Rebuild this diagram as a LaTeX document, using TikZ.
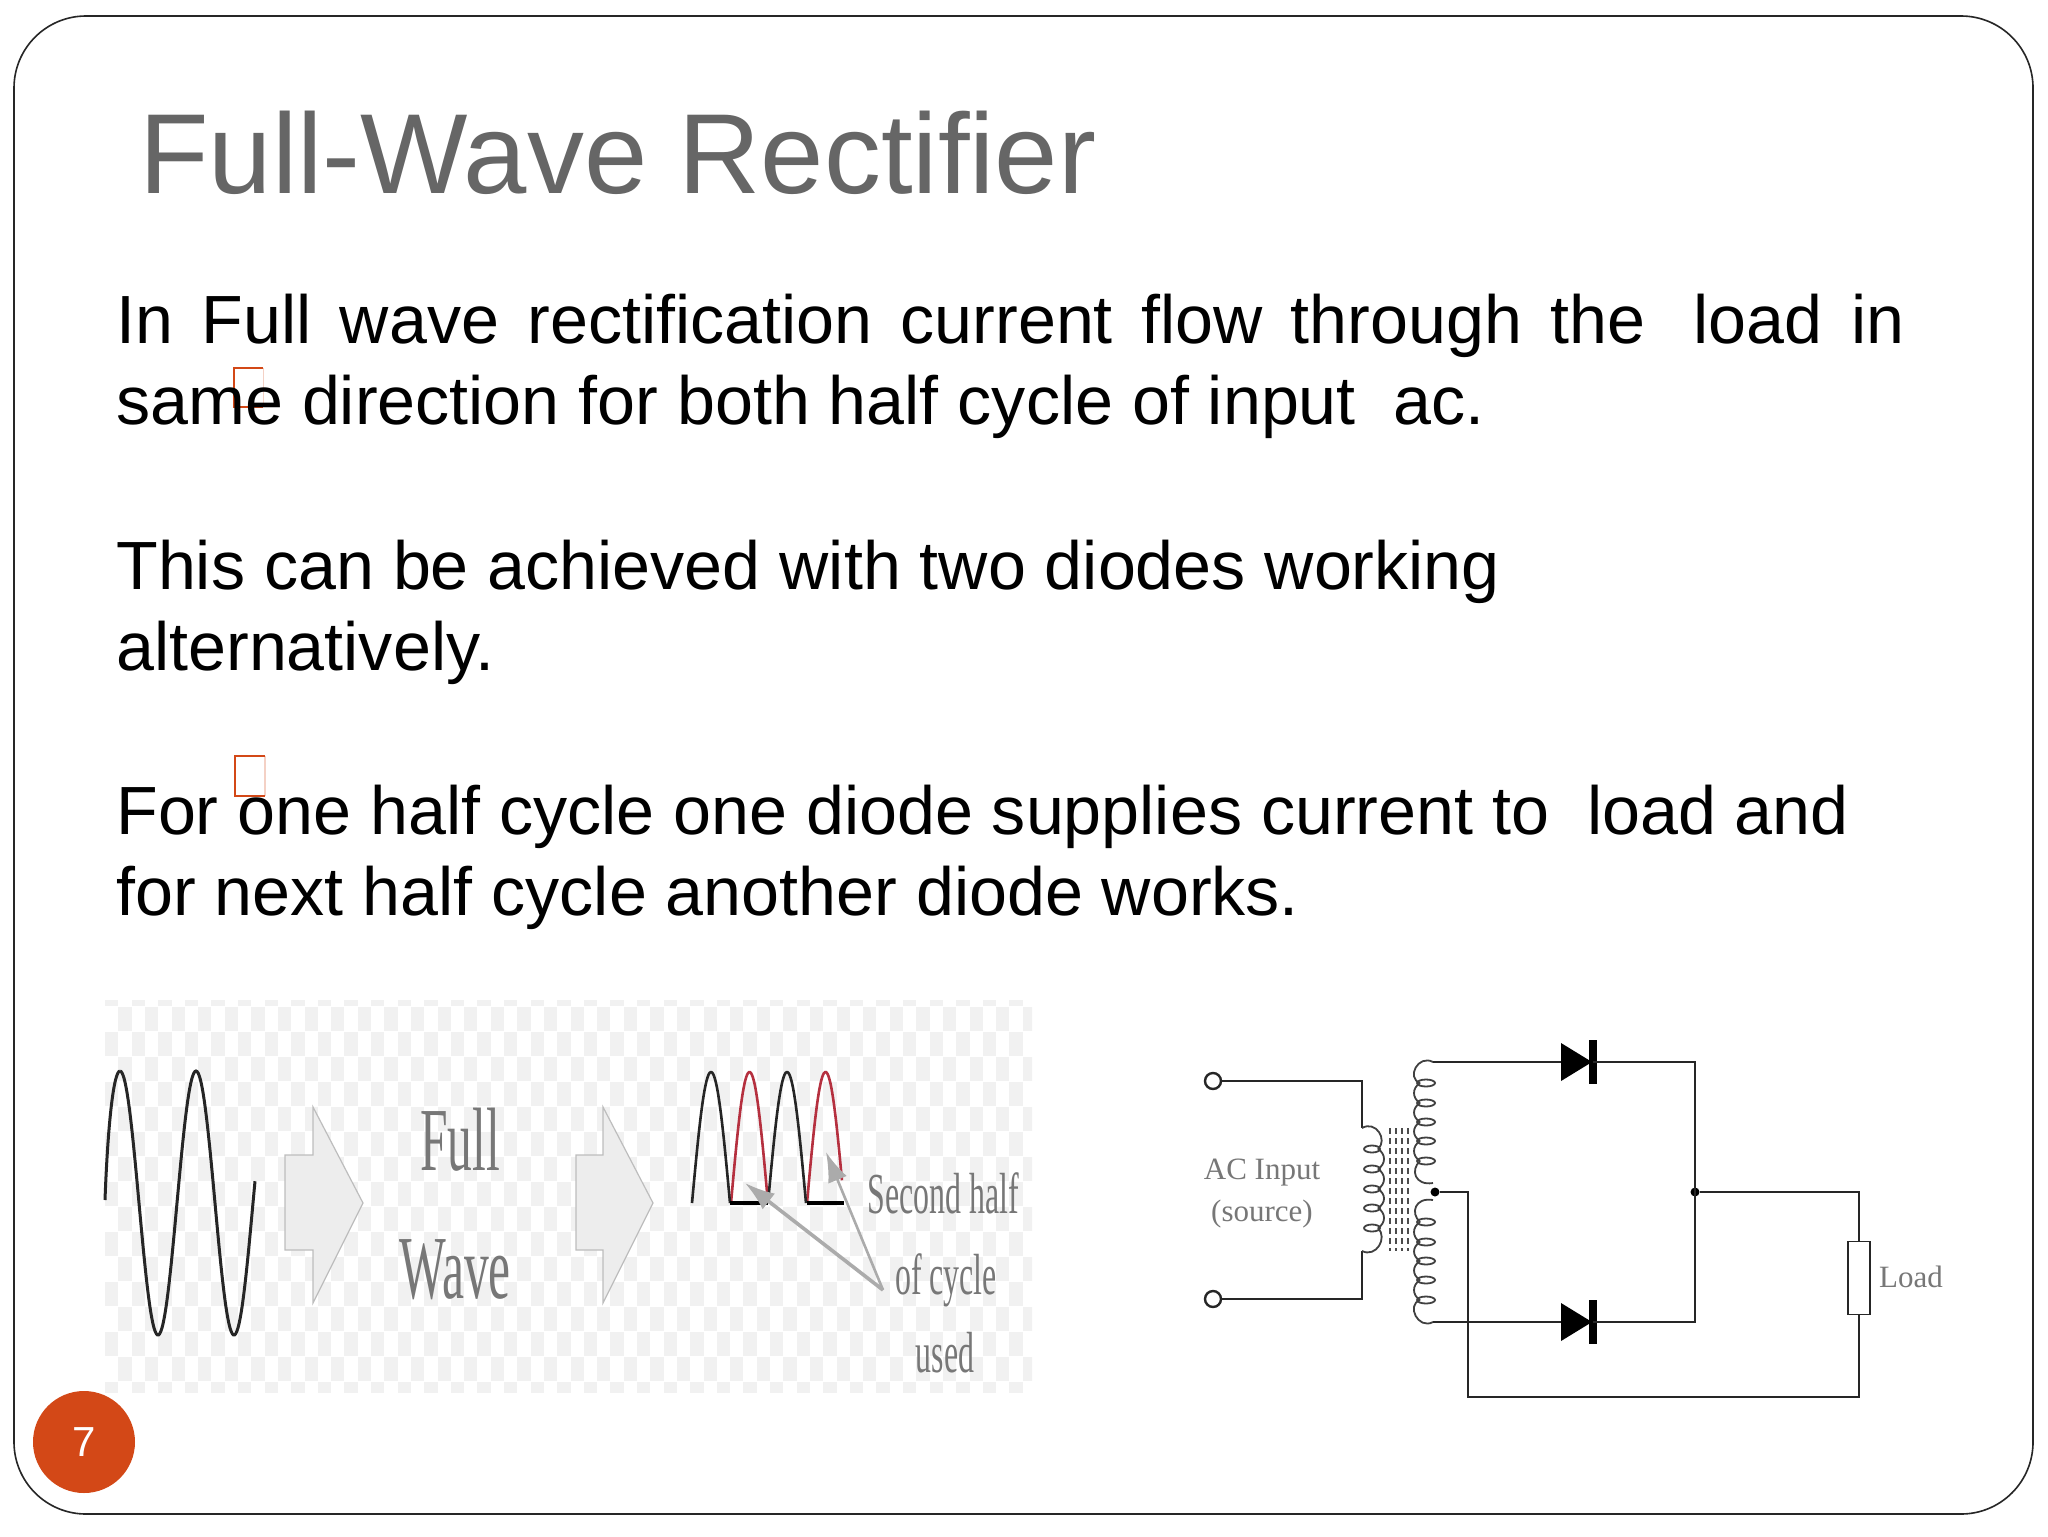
\documentclass[tikz,border=0pt]{standalone}
\usepackage{fontspec}
\setmainfont{Liberation Sans}
\newfontfamily\figfont{Liberation Serif}
\usetikzlibrary{arrows.meta}
\definecolor{slidered}{HTML}{D34817}
\definecolor{titlegray}{HTML}{666666}
\definecolor{checkgray}{HTML}{F1F1F1}
\definecolor{figgray}{HTML}{777777}
\definecolor{arrowgray}{HTML}{EDEDED}
\definecolor{arrowedge}{HTML}{BDBDBD}
\definecolor{calloutgray}{HTML}{ABABAB}
\definecolor{wavered}{HTML}{B5303F}
\newcommand{\narrowfig}[1]{\scalebox{0.55}[1]{#1}}
\begin{document}
\begin{tikzpicture}[
  x=0.5pt, y=-0.5pt,
  >=Latex,
  heading/.style={anchor=base west, inner sep=0pt, text=titlegray, font=\fontsize{56.9pt}{60pt}\selectfont},
  bodyline/.style={anchor=base west, inner sep=0pt, font=\fontsize{34.1pt}{40pt}\selectfont},
  markbox/.style={rectangle, minimum width=14.5pt, minimum height=19.5pt, inner sep=0pt},
  bigblock/.style={arrowedge, line width=0.6pt, fill=arrowgray},
  figword/.style={inner sep=0pt, text=figgray, font=\fontsize{45pt}{50pt}\figfont},
  figsmall/.style={inner sep=0pt, text=figgray, font=\fontsize{29pt}{32pt}\figfont},
  cctlabel/.style={inner sep=0pt, text=figgray, font=\fontsize{15.5pt}{18pt}\figfont},
  callout/.style={->, calloutgray, line width=1.8pt, >={Latex[length=15pt,width=10pt]}},
  wire/.style={line width=1.4pt, black!85},
  coil/.style={line width=0.9pt, black!75},
  terminal/.style={circle, draw=black!85, line width=1.2pt, fill=white, minimum size=8pt, inner sep=0pt},
  joint/.style={circle, fill=black, minimum size=4.5pt, inner sep=0pt},
  diodehead/.style={fill=black, draw=none}
]

% Slide frame and page number
\useasboundingbox (0,0) rectangle (2048,1536);
\fill[white] (0,0) rectangle (2048,1536);
\draw[line width=0.8pt, black!85, rounded corners=36pt] (14,16) rectangle (2033,1514);

% Checker background of the left figure
\begin{scope}
\clip (105,1000) rectangle (1032,1392);
\foreach \i in {0,...,70} {
  \foreach \j in {0,...,16} {
    \pgfmathparse{int(mod(\i+\j,2))}
    \ifnum\pgfmathresult=0
      \fill[checkgray] (105+13.3*\i,982+25*\j) rectangle (118.3+13.3*\i,1006+25*\j);
    \fi
  }
}
\end{scope}

% Title and small markers
\node[markbox] (mark1) at (248.5,387.5) {};
\draw[slidered!25, line width=0.6pt] (mark1.north east) -- (mark1.south east);
\draw[slidered, line width=1pt] (mark1.north east) -- (mark1.north west) -- (mark1.south west) -- (mark1.south east);
\node[markbox] (mark2) at (250,776) {};
\draw[slidered!25, line width=0.6pt] (mark2.north east) -- (mark2.south east);
\draw[slidered, line width=1pt] (mark2.north east) -- (mark2.north west) -- (mark2.south west) -- (mark2.south east);

\node[heading] (title) at (139,193) {Full-Wave Rectifier};

% Body text
\node[bodyline] (line1) at (116,343) {\hbox to 894pt{In\hfill Full\hfill wave\hfill rectification\hfill current\hfill flow\hfill through\hfill the\hfill\hspace{10pt}load\hfill in}};
\node[bodyline] (line2) at (116,424) {same direction for both half cycle of input\ \ ac.};
\node[bodyline] (line3) at (116,589) {This can be achieved with two diodes working};
\node[bodyline] (line4) at (116,670) {alternatively.};
\node[bodyline] (line5) at (116,834) {For one half cycle one diode supplies current to\ \ load and};
\node[bodyline] (line6) at (116,915) {for next half cycle another diode works.};

% Input sine
\draw[line width=1.5pt, black!85] (105,1200) .. controls (108,1120) and (114,1071) .. (120,1071);
\draw[line width=1.5pt, black!85, domain=120:255, samples=120, smooth] plot (\x, {1203-132*sin((\x-101)*4.737)});

% Block arrows
\draw[bigblock] (285,1155) -- (313,1155) -- (313,1107) -- (363,1203) -- (313,1303) -- (313,1250) -- (285,1250) -- cycle;
\draw[bigblock] (576,1155) -- (603,1155) -- (603,1107) -- (653,1203) -- (603,1303) -- (603,1250) -- (576,1250) -- cycle;

\node[figword] (full) at (460,1140) {\narrowfig{Full}};
\node[figword] (wave) at (455,1270) {\narrowfig{Wave}};

% Rectified output
\draw[line width=1.3pt, wavered, domain=0:180, samples=40, smooth] plot ({731+37*\x/180}, {1203-131*sin(\x)});
\draw[line width=1.3pt, wavered, domain=0:170, samples=40, smooth] plot ({807+37*\x/180}, {1203-131*sin(\x)});
\draw[line width=1.3pt, black!85, domain=0:180, samples=40, smooth] plot ({692+38*\x/180}, {1203-131*sin(\x)});
\draw[line width=1.3pt, black!85, domain=0:180, samples=40, smooth] plot ({768+38*\x/180}, {1203-131*sin(\x)});
\draw[line width=2pt, black] (730,1203) -- (768,1203);
\draw[line width=2pt, black] (807,1203) -- (844,1203);

% Callout
\coordinate (callfoot) at (883,1290);
\coordinate (calltipa) at (745,1183);
\coordinate (calltipb) at (826,1152);
\draw[callout] (callfoot) -- (calltipa);
\draw[callout, line width=1.3pt] (callfoot) -- (calltipb);

\node[figsmall] (second) at (943,1193) {\narrowfig{Second half}};
\node[figsmall] (ofcycle) at (946,1280) {\narrowfig{of cycle}};
\node[figsmall] (used) at (945,1353) {\narrowfig{used}};

% Circuit, input side
\node[terminal] (inp) at (1213,1081) {};
\node[terminal] (inn) at (1213,1299) {};
\coordinate (pritop) at (1362,1128);
\coordinate (pribot) at (1362,1251);
\draw[wire] (inp) -- (1362,1081) -- (pritop);
\draw[wire] (inn) -- (1362,1299) -- (pribot);

\node[cctlabel] (acin) at (1262,1173) {AC Input};
\node[cctlabel] (source) at (1262,1214) {(source)};

% Primary winding
\draw[coil] (pritop) .. controls (1376,1120) and (1388,1140) .. (1378,1149);
\foreach \y/\n in {1149/1169, 1169/1189, 1189/1208, 1208/1228}
  \draw[coil] (1378,\y) .. controls (1386,\y+5) and (1386,\n-5) .. (1378,\n);
\foreach \y in {1149,1169,1189,1208,1228}
  \draw[coil] (1372,\y) ellipse [x radius=8, y radius=3.5];
\draw[coil] (1378,1228) .. controls (1388,1238) and (1376,1258) .. (pribot);

% Core
\foreach \x in {1390,1396,1402,1408}
  \draw[black!70, line width=1.1pt, dash pattern=on 3pt off 2pt] (\x,1128) -- (\x,1251);

% Secondary winding
\coordinate (sectop) at (1433,1062);
\coordinate (secmidu) at (1433,1183);
\coordinate (secmidl) at (1433,1200);
\coordinate (secbot) at (1433,1322);
\draw[coil] (sectop) .. controls (1418,1054) and (1406,1078) .. (1420,1083);
\foreach \y/\n in {1083/1103, 1103/1122, 1122/1141, 1141/1161}
  \draw[coil] (1420,\y) .. controls (1412,\y+5) and (1412,\n-5) .. (1420,\n);
\foreach \y in {1083,1103,1122,1141,1161}
  \draw[coil] (1426,\y) ellipse [x radius=9, y radius=3.5];
\draw[coil] (1420,1161) .. controls (1410,1170) and (1415,1186) .. (secmidu);
\draw[coil] (secmidl) .. controls (1415,1197) and (1410,1213) .. (1420,1222);
\foreach \y/\n in {1222/1242, 1242/1261, 1261/1280, 1280/1300}
  \draw[coil] (1420,\y) .. controls (1412,\y+5) and (1412,\n-5) .. (1420,\n);
\foreach \y in {1222,1242,1261,1280,1300}
  \draw[coil] (1426,\y) ellipse [x radius=9, y radius=3.5];
\draw[coil] (1420,1300) .. controls (1406,1305) and (1418,1330) .. (secbot);

% Diodes and load side
\node[joint] (centre) at (1435,1192) {};
\node[joint] (outjoint) at (1695,1192) {};
\coordinate (dtop) at (1561,1062);
\coordinate (dbot) at (1561,1322);
\coordinate (cornera) at (1695,1062);
\coordinate (cornerb) at (1695,1322);
\fill[diodehead] (dtop) ++(0,-19) -- ++(31,19) -- ++(-31,19) -- cycle;
\fill[diodehead] (dbot) ++(0,-19) -- ++(31,19) -- ++(-31,19) -- cycle;
\fill[diodehead] (1589,1040) rectangle (1597,1084);
\fill[diodehead] (1589,1300) rectangle (1597,1344);
\draw[wire] (sectop) -- (dtop);
\draw[wire] (secbot) -- (dbot);
\draw[wire] (1593,1062) -- (cornera) -- (cornerb) -- (1593,1322);

\node[rectangle, draw=black!85, line width=0.8pt, fill=white, minimum width=11pt, minimum height=36.5pt, inner sep=0pt] (load) at (1859,1278) {};
\draw[wire] (outjoint) -- (1859,1192) -- (load.north);
\draw[wire] (centre) -- (1468,1192) -- (1468,1397) -- (1859,1397) -- (load.south);
\node[cctlabel] (loadtxt) at (1911,1277) {Load};

% Page number
\node[circle, fill=slidered, minimum size=51pt, inner sep=0pt, text=white, font=\fontsize{21pt}{24pt}\selectfont] (page) at (84,1442) {7};

\end{tikzpicture}
\end{document}
